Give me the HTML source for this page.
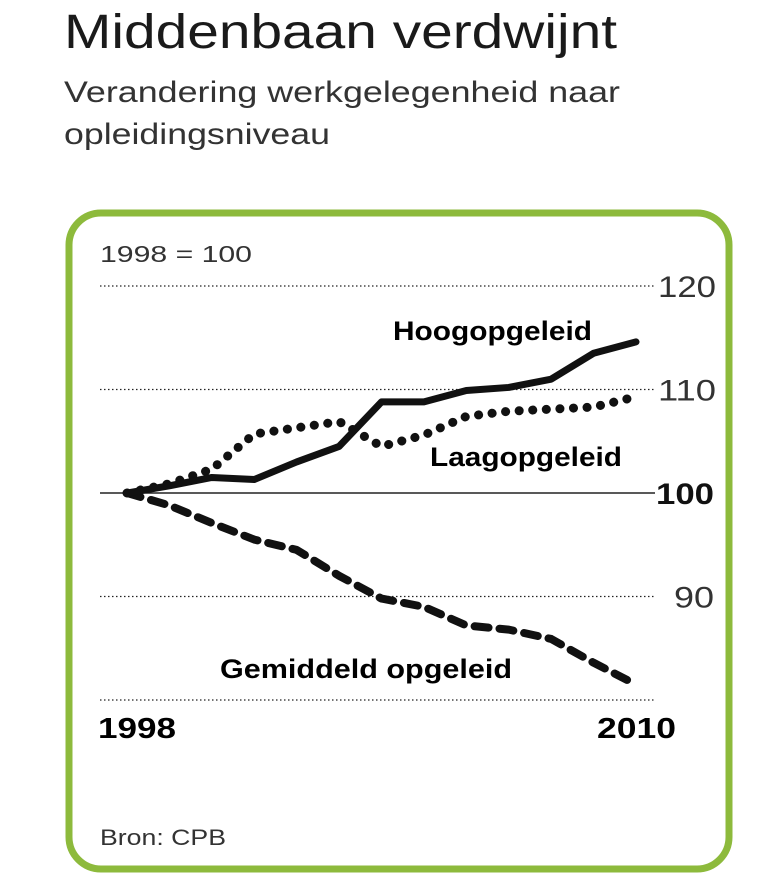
<!DOCTYPE html>
<html><head><meta charset="utf-8"><style>
body{margin:0;background:#fff;width:763px;height:890px;overflow:hidden;font-family:"Liberation Sans","DejaVu Sans",sans-serif;color:#1a1a1a}
</style></head><body>
<svg width="763" height="890" xmlns="http://www.w3.org/2000/svg">
<text x="64" y="48" font-size="48" fill="#1a1a1a" textLength="553" lengthAdjust="spacingAndGlyphs">Middenbaan verdwijnt</text>
<text x="64" y="102" font-size="30" fill="#333" textLength="556" lengthAdjust="spacingAndGlyphs">Verandering werkgelegenheid naar</text>
<text x="64" y="144" font-size="30" fill="#333" textLength="266" lengthAdjust="spacingAndGlyphs">opleidingsniveau</text>
<rect x="69" y="213" width="660" height="656" rx="32" fill="none" stroke="#8dba3c" stroke-width="7"/>
<text x="100" y="262" font-size="23" fill="#333" textLength="152" lengthAdjust="spacingAndGlyphs">1998 = 100</text>
<g id="grid"></g>
<g id="series"></g>
<text x="393" y="340" font-size="27" font-weight="bold" textLength="199" lengthAdjust="spacingAndGlyphs">Hoogopgeleid</text>
<text x="430" y="466" font-size="27" font-weight="bold" textLength="192" lengthAdjust="spacingAndGlyphs">Laagopgeleid</text>
<text x="220" y="678" font-size="27" font-weight="bold" textLength="292" lengthAdjust="spacingAndGlyphs">Gemiddeld opgeleid</text>
<text x="98" y="738" font-size="29" font-weight="bold" textLength="78" lengthAdjust="spacingAndGlyphs">1998</text>
<text x="597" y="738" font-size="29" font-weight="bold" textLength="79" lengthAdjust="spacingAndGlyphs">2010</text>
<text x="100" y="845" font-size="22" fill="#333" textLength="126" lengthAdjust="spacingAndGlyphs">Bron: CPB</text>
</svg>
<script>
const years=[1998,1999,2000,2001,2002,2003,2004,2005,2006,2007,2008,2009,2010];
const hoog=[100,100.7,101.5,101.3,103,104.5,108.8,108.8,109.9,110.2,111,113.5,114.6];
const laag=[100,100.9,102.3,105.7,106.3,106.9,104.5,105.6,107.4,107.9,108.1,108.3,109.3];
const gem=[100,98.8,97.1,95.5,94.5,92,89.8,89,87.2,86.8,85.9,83.6,81.5];
const ticks=[80,90,100,110,120];
const tickLabels=["","90","100","110","120"];
const NS="http://www.w3.org/2000/svg";
const xS=y=>127+(y-1998)*(636-127)/12;
const yS=v=>493-(v-100)*10.35;
const grid=document.getElementById('grid');
ticks.forEach((t,i)=>{
 const l=document.createElementNS(NS,'line');
 l.setAttribute('x1',100);l.setAttribute('x2',t===100?655:655);
 l.setAttribute('y1',yS(t));l.setAttribute('y2',yS(t));
 l.setAttribute('stroke','#222');
 l.setAttribute('stroke-width',t===100?1.5:1.2);
 if(t!==100)l.setAttribute('stroke-dasharray','1.5 2.5');
 
 
 grid.appendChild(l);
 if(tickLabels[i]){
  const tx=document.createElementNS(NS,'text');
  tx.setAttribute('x',t===100?656:(t===90?674:658));tx.setAttribute('y',yS(t)+11);
  tx.setAttribute('font-size',30);
  if(t===100)tx.setAttribute('font-weight','bold');
  tx.setAttribute('fill',t===100?'#111':'#333');
  tx.setAttribute('textLength',t===90?40:58);
  tx.setAttribute('lengthAdjust','spacingAndGlyphs');
  tx.textContent=tickLabels[i];
  
  
  grid.appendChild(tx);
 }
});
const ser=document.getElementById('series');
function draw(vals,dash,w,name){
 const p=document.createElementNS(NS,'polyline');
 p.setAttribute('points',vals.map((v,i)=>xS(years[i])+','+yS(v)).join(' '));
 p.setAttribute('fill','none');p.setAttribute('stroke','#111');
 p.setAttribute('stroke-width',w);p.setAttribute('stroke-linejoin','round');
 p.setAttribute('stroke-linecap','round');
 if(dash)p.setAttribute('stroke-dasharray',dash);
 
 
 ser.appendChild(p);
}
draw(gem,'14 11',8,'line-gemiddeld-opgeleid');
draw(laag,'0.1 13.5',9,'line-laagopgeleid');
draw(hoog,null,7,'line-hoogopgeleid');
</script>
</body></html>
